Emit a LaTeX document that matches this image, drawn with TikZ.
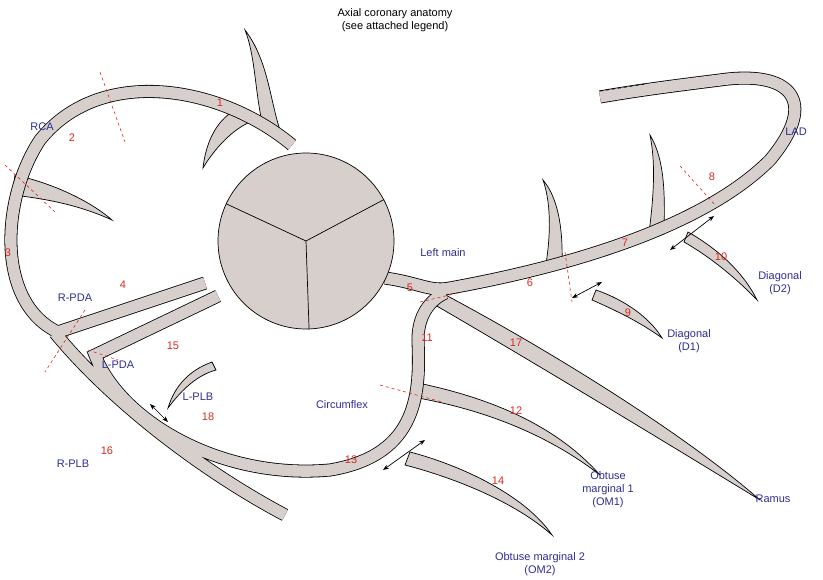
\documentclass[tikz,border=0pt]{standalone}
\usepackage{fontspec}
\setmainfont{Liberation Sans}
\usetikzlibrary{arrows.meta}
\definecolor{vgray}{RGB}{214,207,204}
\definecolor{lblue}{RGB}{45,45,150}
\definecolor{lred}{RGB}{220,40,30}
\tikzset{
  fs/.style={font=\fontsize{11}{13}\selectfont},
  num/.style={fs,text=lred},
  lab/.style={fs,text=lblue,align=center},
  cut/.style={lred,dashed,line width=0.6pt},
  br/.style={fill=vgray,draw=black,line width=0.7pt},
  dbl/.style={{Stealth[length=6pt]}-{Stealth[length=6pt]},line width=0.7pt}
}
\begin{document}
\begin{tikzpicture}[x=1pt,y=-1pt]
\useasboundingbox (0,0) rectangle (823,580);
% tapered branches
\draw[br] (262,122) .. controls (255,90) and (255,55) .. (245,30) .. controls (268,60) and (270,100) .. (280,130) -- cycle;
\draw[br] (232,112) .. controls (212,125) and (205,150) .. (203,168) .. controls (215,148) and (232,130) .. (250,122) -- cycle;
\draw[br] (15,175) .. controls (60,185) and (95,205) .. (112,220) .. controls (90,210) and (60,200) .. (12,195) -- cycle;
\draw[br] (545,270) .. controls (552,230) and (550,200) .. (543,180) .. controls (560,200) and (563,235) .. (562,266) -- cycle;
\draw[br] (648,240) .. controls (655,190) and (655,160) .. (650,135) .. controls (665,160) and (665,195) .. (664,234) -- cycle;
\draw[br] (596,290) .. controls (625,300) and (650,318) .. (662,338) .. controls (640,322) and (615,310) .. (592,300) -- cycle;
\draw[br] (688,232) .. controls (720,250) and (745,275) .. (757,300) .. controls (738,280) and (712,258) .. (684,242) -- cycle;
\draw[br] (418,383) .. controls (500,400) and (560,430) .. (600,475) .. controls (555,440) and (495,412) .. (418,398) -- cycle;
\draw[br] (410,452) .. controls (460,465) and (525,495) .. (552,535) .. controls (515,502) and (455,478) .. (405,465) -- cycle;
\draw[br] (440,292) .. controls (540,345) and (680,430) .. (760,500) .. controls (670,445) and (530,360) .. (435,305) -- cycle;
\draw[br] (212,362) .. controls (190,370) and (175,385) .. (168,408) .. controls (183,388) and (198,375) .. (216,370) -- cycle;
% vessels
\foreach \w/\c in {13/black,11.4/vgray}{
  \draw[line width=\w,\c,line cap=butt]
    (292,145) .. controls (220,85) and (100,65) .. (40,140) .. controls (0,200) and (-5,310) .. (65,335)
    (55,333) -- (205,283)
    (55,333) .. controls (110,400) and (200,470) .. (285,515)
    (218,296) -- (95,355) .. controls (120,420) and (220,480) .. (330,470) .. controls (420,455) and (420,390) .. (418,340) .. controls (418,315) and (430,300) .. (445,293)
    (385,278) .. controls (420,283) and (430,292) .. (450,288) .. controls (560,268) and (700,230) .. (770,160) .. controls (820,100) and (790,70) .. (720,80) .. controls (680,85) and (640,90) .. (600,97);
}
\draw[black,dashed,line width=0.9pt] (600,91) -- (645,84);
% aorta
\node[circle,draw=black,fill=vgray,minimum size=176pt,inner sep=0pt,line width=0.7pt] (ao) at (306,241) {};
\draw[line width=0.7pt] (ao.center) -- (ao.155) (ao.center) -- (ao.28) (ao.center) -- (ao.-88);
% cuts
\draw[cut] (100,72) -- (125,142);
\draw[cut] (5,165) -- (55,212);
\draw[cut] (85,310) -- (45,372);
\draw[cut] (88,350) -- (118,360);
\draw[cut] (420,302) -- (458,293);
\draw[cut] (565,252) -- (572,302);
\draw[cut] (680,166) -- (716,206);
\draw[cut] (380,385) -- (442,402);
% arrows
\coordinate (a1) at (572,298); \coordinate (b1) at (602,282);
\coordinate (a2) at (670,250); \coordinate (b2) at (714,216);
\coordinate (a3) at (383,470); \coordinate (b3) at (425,440);
\coordinate (a4) at (150,404); \coordinate (b4) at (168,422);
\draw[dbl] (a1) -- (b1); \draw[dbl] (a2) -- (b2); \draw[dbl] (a3) -- (b3); \draw[dbl] (a4) -- (b4);
% text
\node[fs,align=center] (t) at (395,20) {Axial coronary anatomy\\(see attached legend)};
\node[lab] (rca) at (42,127) {RCA};
\node[lab] (rpda) at (75,298) {R-PDA};
\node[lab] (lm) at (443,253) {Left main};
\node[lab] (lad) at (796,132) {LAD};
\node[lab] (d2) at (780,283) {Diagonal\\(D2)};
\node[lab] (d1) at (689,341) {Diagonal\\(D1)};
\node[lab] (lpda) at (118,365) {L-PDA};
\node[lab] (lplb) at (198,397) {L-PLB};
\node[lab] (cx) at (342,405) {Circumflex};
\node[lab] (rplb) at (73,464) {R-PLB};
\node[lab] (om1) at (608,490) {Obtuse\\marginal 1\\(OM1)};
\node[lab] (ram) at (773,499) {Ramus};
\node[lab] (om2) at (540,564) {Obtuse marginal 2\\(OM2)};
\node[num] (n1) at (220,103) {1};
\node[num] (n2) at (72,138) {2};
\node[num] (n3) at (8,253) {3};
\node[num] (n4) at (123,285) {4};
\node[num] (n5) at (410,288) {5};
\node[num] (n6) at (530,283) {6};
\node[num] (n7) at (625,243) {7};
\node[num] (n8) at (712,177) {8};
\node[num] (n9) at (628,313) {9};
\node[num] (n10) at (721,257) {10};
\node[num] (n11) at (427,338) {11};
\node[num] (n12) at (516,411) {12};
\node[num] (n13) at (351,460) {13};
\node[num] (n14) at (498,481) {14};
\node[num] (n15) at (173,346) {15};
\node[num] (n16) at (107,451) {16};
\node[num] (n17) at (516,343) {17};
\node[num] (n18) at (208,417) {18};
\end{tikzpicture}
\end{document}
